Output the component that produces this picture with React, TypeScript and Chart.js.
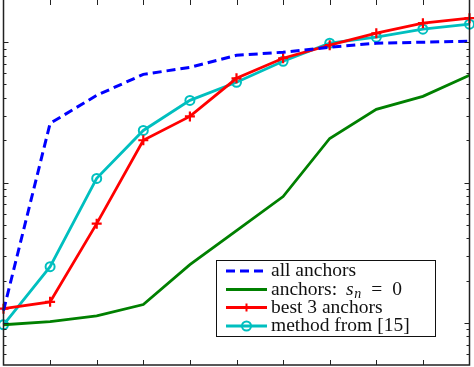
import React, { useEffect, useRef } from 'react';
import { Chart, registerables } from 'chart.js';
Chart.register(...registerables);

const xValues = [0, 1, 2, 3, 4, 5, 6, 7, 8, 9, 10];
const allAnchors = [0.0122, 0.264, 0.418, 0.59, 0.662, 0.807, 0.849, 0.921, 0.984, 1.0, 1.017];
const zeroAnchors = [0.00968, 0.0102, 0.0112, 0.0135, 0.026, 0.0454, 0.0794, 0.206, 0.332, 0.411, 0.581];
const best3 = [0.0126, 0.0141, 0.0509, 0.2, 0.296, 0.553, 0.769, 0.953, 1.159, 1.367, 1.484];
const method15 = [0.00968, 0.0251, 0.107, 0.235, 0.385, 0.518, 0.731, 0.984, 1.086, 1.239, 1.345];

const seriesLabels = ['all anchors', 'anchors: s_n = 0', 'best 3 anchors', 'method from [15]'];
const xTickValues = [1, 2, 3, 4, 5, 6, 7, 8, 9];
const yMajorTicks = [0.01, 0.1, 1];
const yMinorTicks = [0.006, 0.007, 0.008, 0.009, 0.02, 0.03, 0.04, 0.05, 0.06, 0.07, 0.08, 0.09, 0.2, 0.3, 0.4, 0.5, 0.6, 0.7, 0.8, 0.9];

const BLUE = '#0000ff';
const GREEN = '#008000';
const RED = '#ff0000';
const CYAN = '#00bfbf';
const FONT = '19.5px "Liberation Serif", "Times New Roman", serif';
const FONT_IT = 'italic 19.5px "Liberation Serif", "Times New Roman", serif';
const FONT_SUB = 'italic 14px "Liberation Serif", "Times New Roman", serif';

const matlabPlugin = {
  id: 'matlabAxes',
  afterDraw(chart: any) {
    const ctx = chart.ctx as CanvasRenderingContext2D;
    const { left, right, top, bottom } = chart.chartArea;
    const xs = chart.scales.x;
    const ys = chart.scales.y;
    ctx.save();
    ctx.strokeStyle = '#222';
    ctx.lineWidth = 1.5;
    ctx.beginPath();
    ctx.moveTo(left, top);
    ctx.lineTo(left, bottom);
    ctx.lineTo(right, bottom);
    ctx.lineTo(right, top);
    ctx.stroke();
    ctx.lineWidth = 1;
    ctx.beginPath();
    for (const v of xTickValues) {
      const px = Math.round(xs.getPixelForValue(v)) + 0.5;
      ctx.moveTo(px, bottom);
      ctx.lineTo(px, bottom - 5);
      ctx.moveTo(px, top);
      ctx.lineTo(px, top + 5);
    }
    for (const v of yMajorTicks) {
      const py = Math.round(ys.getPixelForValue(v)) + 0.5;
      ctx.moveTo(left, py);
      ctx.lineTo(left + 5, py);
      ctx.moveTo(right, py);
      ctx.lineTo(right - 5, py);
    }
    for (const v of yMinorTicks) {
      const py = Math.round(ys.getPixelForValue(v)) + 0.5;
      ctx.moveTo(left, py);
      ctx.lineTo(left + 3, py);
      ctx.moveTo(right, py);
      ctx.lineTo(right - 3, py);
    }
    ctx.stroke();

    // legend
    const bx = 216.5, by = 260.5, bw = 219, bh = 76;
    ctx.fillStyle = '#fff';
    ctx.fillRect(bx, by, bw, bh);
    ctx.strokeStyle = '#111';
    ctx.lineWidth = 1;
    ctx.strokeRect(bx, by, bw, bh);
    const rows = [271, 289.5, 307.5, 326];
    const x0 = 226, x1 = 267, tx = 271;
    chart.data.datasets.forEach((ds: any, i: number) => {
      const y = rows[i];
      ctx.save();
      ctx.strokeStyle = ds.borderColor;
      ctx.lineWidth = ds.borderWidth;
      ctx.setLineDash(ds.borderDash || []);
      ctx.beginPath();
      ctx.moveTo(x0, y);
      ctx.lineTo(x1, y);
      ctx.stroke();
      ctx.setLineDash([]);
      const cx = (x0 + x1) / 2;
      if (ds.pointStyle === 'cross' && ds.pointRadius > 0) {
        ctx.lineWidth = 2;
        ctx.beginPath();
        ctx.moveTo(cx - 4, y); ctx.lineTo(cx + 4, y);
        ctx.moveTo(cx, y - 4); ctx.lineTo(cx, y + 4);
        ctx.stroke();
      } else if (ds.pointStyle === 'circle' && ds.pointRadius > 0) {
        ctx.lineWidth = 2;
        ctx.beginPath();
        ctx.arc(cx, y, 4.5, 0, Math.PI * 2);
        ctx.stroke();
      }
      ctx.restore();
      ctx.fillStyle = '#111';
      ctx.textBaseline = 'middle';
      ctx.textAlign = 'left';
      const label: string = ds.label;
      if (label.includes('s_n')) {
        const [pre, post] = label.split('s_n');
        const preT = pre.trimEnd();
        ctx.font = FONT;
        ctx.fillText(preT, tx, y);
        let cx2 = tx + ctx.measureText(preT).width + 9;
        ctx.font = FONT_IT;
        ctx.fillText('s', cx2, y);
        cx2 += ctx.measureText('s').width + 0.5;
        ctx.font = FONT_SUB;
        ctx.fillText('n', cx2, y + 5);
        cx2 += ctx.measureText('n').width + 10;
        const parts = post.trim().split(' ');
        ctx.font = FONT;
        ctx.fillText(parts[0], cx2, y);
        cx2 += ctx.measureText(parts[0]).width + 10;
        ctx.fillText(parts[1], cx2, y);
      } else {
        ctx.font = FONT;
        ctx.fillText(label, tx, y);
      }
    });
    ctx.restore();
  },
};

export default function App() {
  const ref = useRef<HTMLCanvasElement | null>(null);
  useEffect(() => {
    if (!ref.current) return;
    const mk = (arr: number[]) => arr.map((y, i) => ({ x: xValues[i], y }));
    const chart = new Chart(ref.current, {
      type: 'line',
      data: {
        datasets: [
          { label: seriesLabels[0], data: mk(allAnchors), borderColor: BLUE, borderWidth: 3, borderDash: [9, 5], pointRadius: 0, pointStyle: 'line', fill: false, clip: false } as any,
          { label: seriesLabels[1], data: mk(zeroAnchors), borderColor: GREEN, borderWidth: 2.8, pointRadius: 0, pointStyle: 'line', fill: false, clip: false } as any,
          { label: seriesLabels[2], data: mk(best3), borderColor: RED, borderWidth: 2.8, pointStyle: 'cross', pointRadius: 5, pointBorderWidth: 2.2, pointBorderColor: RED, fill: false, clip: false } as any,
          { label: seriesLabels[3], data: mk(method15), borderColor: CYAN, borderWidth: 2.8, pointStyle: 'circle', pointRadius: 4.5, pointBorderWidth: 2, pointBorderColor: CYAN, pointBackgroundColor: 'rgba(0,0,0,0)', fill: false, clip: false } as any,
        ],
      },
      options: {
        responsive: false,
        animation: false,
        devicePixelRatio: 1,
        layout: { autoPadding: false, padding: { left: 3.5, right: 4.5, top: 0, bottom: 2 } },
        plugins: { legend: { display: false }, tooltip: { enabled: false } },
        elements: { line: { tension: 0 } },
        scales: {
          x: { type: 'linear', min: 0, max: 10, display: false },
          y: { type: 'logarithmic', min: 0.005, max: 2, display: false },
        },
      },
      plugins: [matlabPlugin],
    });
    return () => chart.destroy();
  }, []);
  return (
    <div style={{ position: 'fixed', left: 0, top: 0, width: 474, height: 367, background: '#fff' }}>
      <canvas ref={ref} width={474} height={367} style={{ display: 'block' }} />
    </div>
  );
}
